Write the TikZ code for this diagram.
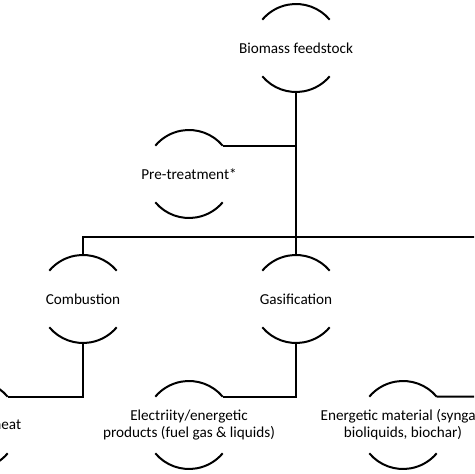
\documentclass[tikz,border=0pt]{standalone}
\usepackage{fontspec}
\setmainfont{Carlito}
\newcommand{\procnode}[3]{%
  \node[proc] (#1) at (#2) {#3};
  \coordinate (#1-ne) at ([shift={(40:44)}]#1.center);
  \coordinate (#1-se) at ([shift={(-140:44)}]#1.center);
  \coordinate (#1-n) at ([shift={(90:44)}]#1.center);
  \coordinate (#1-s) at ([shift={(-90:44)}]#1.center);
  \draw[arcline] (#1-ne) arc[start angle=40, end angle=140, radius=44];
  \draw[arcline] (#1-se) arc[start angle=-140, end angle=-40, radius=44];
}

\begin{document}
\begin{tikzpicture}[x=0.75pt, y=0.75pt,
    proc/.style={align=center, inner sep=0pt, font=\fontsize{11.4}{12.9}\selectfont},
    arcline/.style={line width=1.5pt},
    link/.style={line width=1.5pt}]
    \useasboundingbox (0,0) rectangle (474,474);
    \clip (0,0) rectangle (474,474);
    \procnode{bio}{296,426}{Biomass feedstock}
    \procnode{pre}{189,300}{Pre-treatment*}
    \procnode{comb}{83,175}{Combustion}
    \procnode{gas}{296,175}{Gasification}
    \procnode{heat}{-26,49}{Electricity/heat}
    \procnode{elec}{189,49}{Electriity/energetic\\products (fuel gas \& liquids)}
    \procnode{ener}{403,49}{Energetic material (syngas,\\bioliquids, biochar)}
    \coordinate (barR) at (480,237);
    \coordinate (enerR) at (480,77.3);
    \draw[link] (bio-s) -- (bio-s |- barR);
    \draw[link] (pre-ne) -- (pre-ne -| bio-s);
    \draw[link] (comb-n) |- (barR);
    \draw[link] (gas-n) -- (gas-n |- barR);
    \draw[link] (comb-s) |- (heat-ne);
    \draw[link] (gas-s) |- (elec-ne);
    \draw[link] (ener-ne) -- (enerR);
\end{tikzpicture}
\end{document}
